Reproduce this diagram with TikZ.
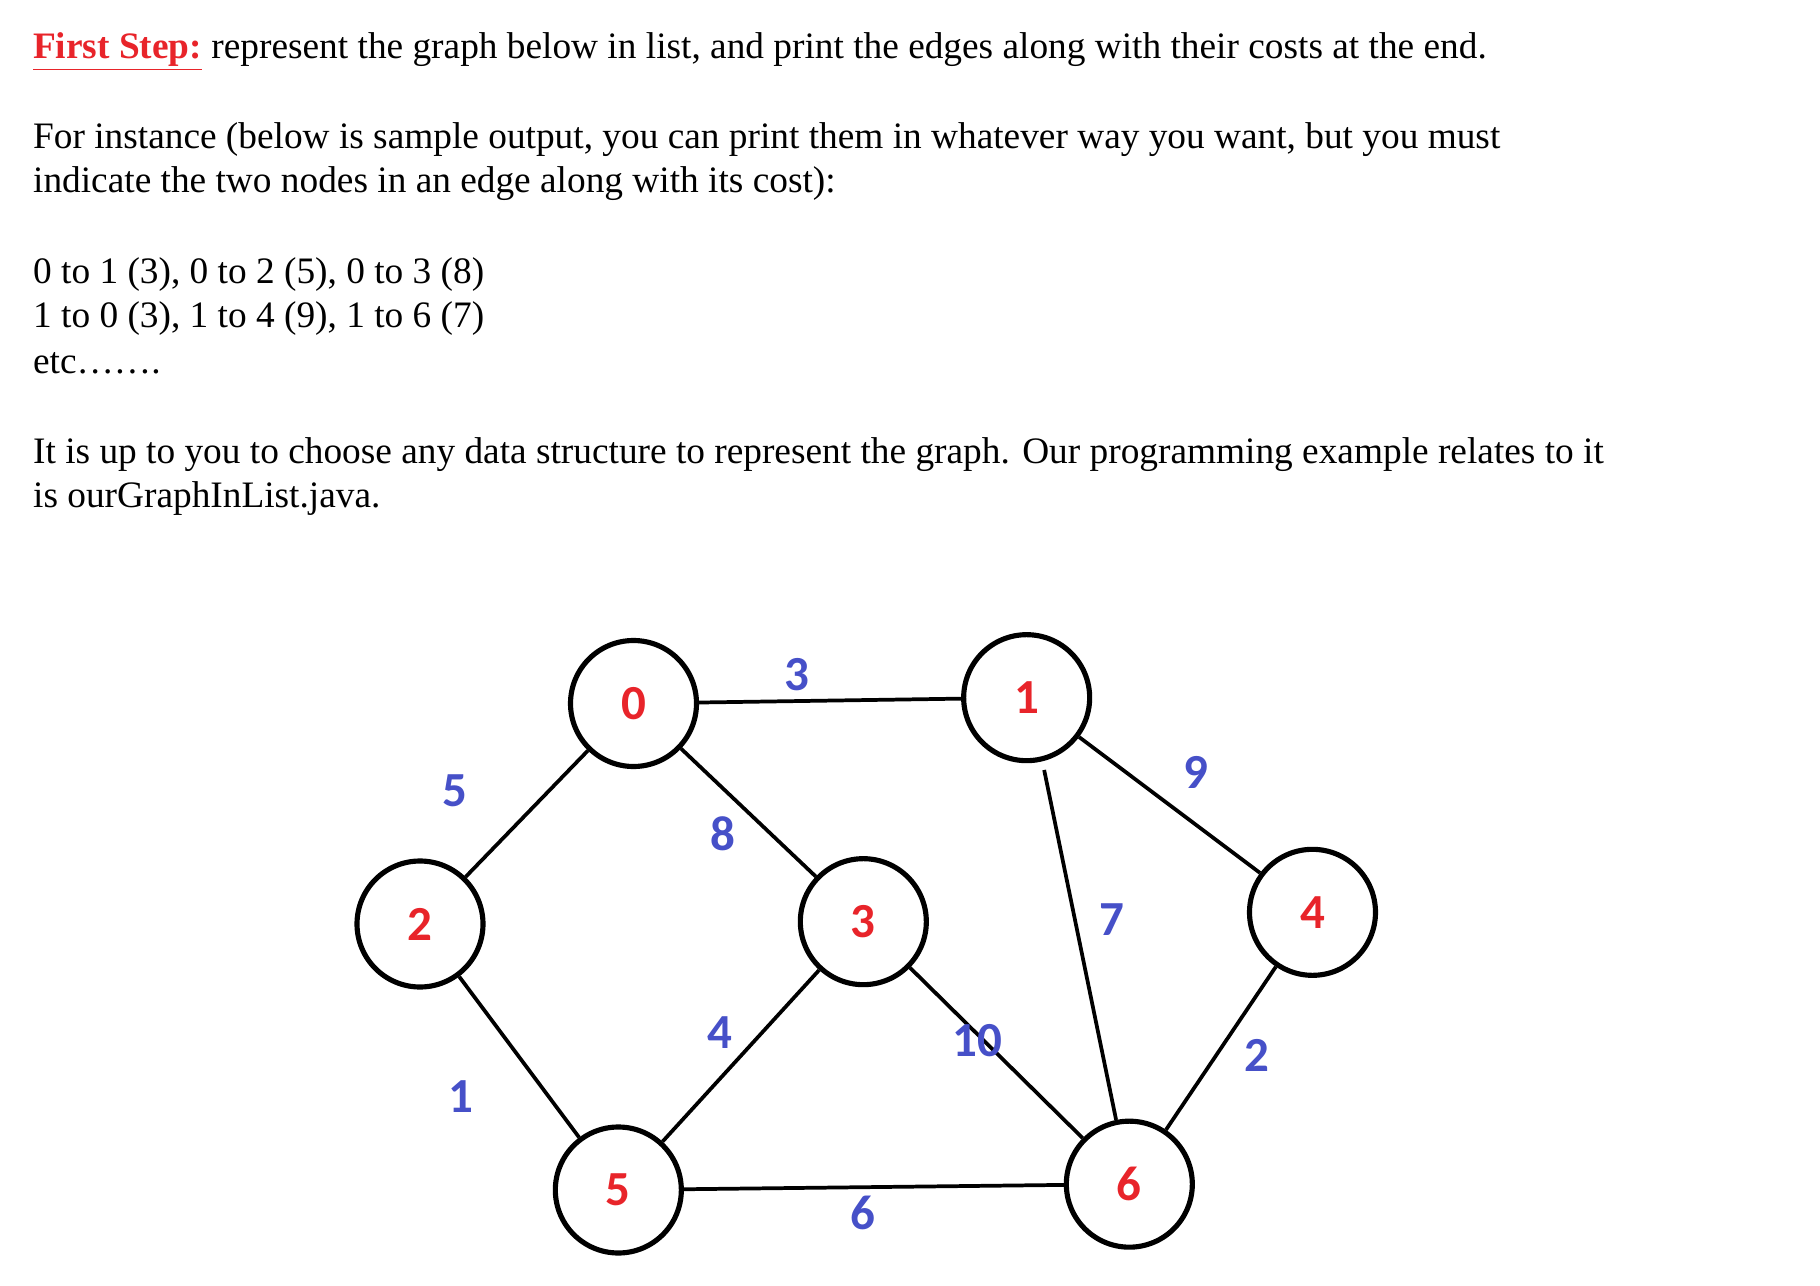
\documentclass[tikz,border=0pt]{standalone}
\usepackage{fontspec}
\setmainfont{Liberation Serif}
\newfontfamily\lblfont{Carlito}
\definecolor{myred}{HTML}{E8242A}
\definecolor{myblue}{HTML}{4650C8}
\begin{document}
\begin{tikzpicture}[x=0.5pt,y=-0.5pt,
  vert/.style={circle,draw,line width=2.2pt,minimum size=54pt,inner sep=0pt,font=\lblfont\bfseries\fontsize{21}{21}\selectfont,text=myred},
  wt/.style={font=\lblfont\bfseries\fontsize{21}{21}\selectfont,text=myblue,inner sep=0pt},
  edge/.style={line width=1.6pt},
  txt/.style={anchor=base west,inner sep=0pt,font=\fontsize{16}{19}\selectfont}]
\useasboundingbox (0,0) rectangle (1560,1102);
\node[txt] (t1) at (28,50) {\textcolor{myred}{\textbf{\underline{First Step:}}} represent the graph below in list, and print the edges along with their costs at the end.};
\node[txt] (t2) at (28,127) {For instance (below is sample output, you can print them in whatever way you want, but you must};
\node[txt] (t3) at (28,165) {indicate the two nodes in an edge along with its cost):};
\node[txt] (t4) at (28,243) {0 to 1 (3), 0 to 2 (5), 0 to 3 (8)};
\node[txt] (t5) at (28,281) {1 to 0 (3), 1 to 4 (9), 1 to 6 (7)};
\node[txt] (t6) at (28,320) {etc…….};
\node[txt] (t7) at (28,397) {It is up to you to choose any data structure to represent the graph. Our programming example relates to it};
\node[txt] (t8) at (28,435) {is ourGraphInList.java.};
\node[vert] (n0) at (543,603) {0};
\node[vert] (n1) at (880,598) {1};
\node[vert] (n2) at (360,792) {2};
\node[vert] (n3) at (740,790) {3};
\node[vert] (n4) at (1125,782) {4};
\node[vert] (n5) at (530,1020) {5};
\node[vert] (n6) at (968,1015) {6};
\coordinate (c1) at (895,660);
\draw[edge] (n0) -- (n1);
\draw[edge] (n0) -- (n2);
\draw[edge] (n0) -- (n3);
\draw[edge] (n1) -- (n4);
\draw[edge] (c1) -- (n6);
\draw[edge] (n2) -- (n5);
\draw[edge] (n3) -- (n5);
\draw[edge] (n3) -- (n6);
\draw[edge] (n4) -- (n6);
\draw[edge] (n5) -- (n6);
\node[wt] (w3) at (683,578) {3};
\node[wt] (w5) at (390,678) {5};
\node[wt] (w8) at (620,715) {8};
\node[wt] (w7) at (953,788) {7};
\node[wt] (w9) at (1025,662) {9};
\node[wt] (w4) at (617,885) {4};
\node[wt] (w10) at (838,892) {10};
\node[wt] (w2) at (1077,905) {2};
\node[wt] (w1) at (395,940) {1};
\node[wt] (w6) at (740,1040) {6};
\end{tikzpicture}
\end{document}
